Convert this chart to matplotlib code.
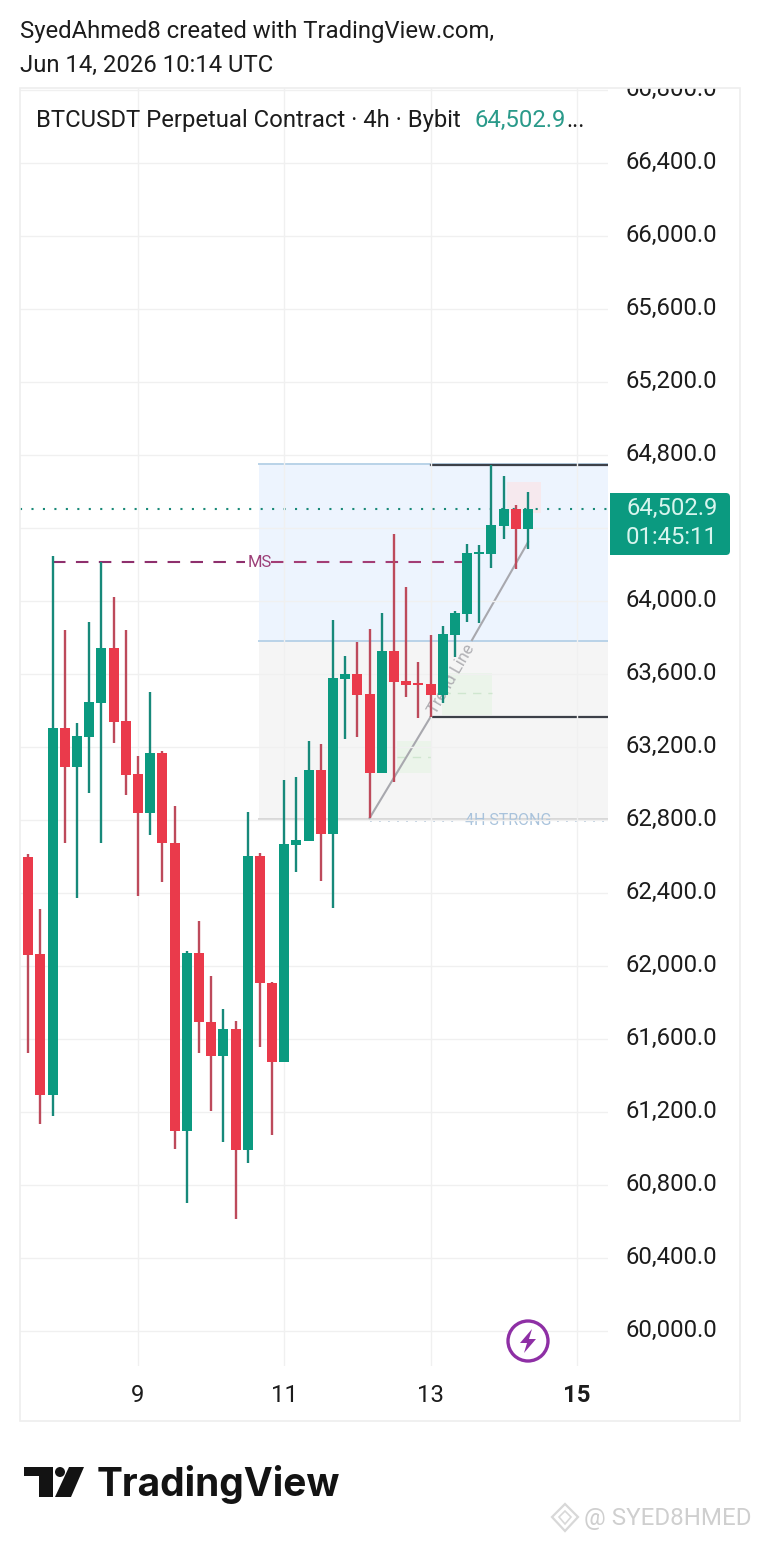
import matplotlib
matplotlib.use('Agg')
import matplotlib.pyplot as plt
from matplotlib.patches import Rectangle, Circle, Polygon, FancyBboxPatch
from matplotlib.transforms import Bbox, TransformedBbox, ScaledTranslation

plt.rcParams['font.family'] = ['Roboto', 'DejaVu Sans']

# 4h candles, index 9 = day 9
opens = [62595, 62064, 61291, 63302, 63089, 63253, 63439, 63741, 63341, 63050, 62837, 63165, 62672, 61094,
         62069, 61691, 61505, 61653, 60990, 62601, 61905, 61472, 62661, 62683, 63072, 62722, 63571, 63598,
         63489, 63056, 63724, 63560, 63549, 63543, 63483, 63812, 63927, 64256, 64256, 64409, 64502, 64393]
closes = [62059, 61291, 63302, 63089, 63258, 63445, 63741, 63335, 63045, 62837, 63165, 62672, 61094, 62069,
          61691, 61505, 61653, 60990, 62601, 61905, 61472, 62667, 62689, 63072, 62722, 63576, 63598, 63483,
          63056, 63724, 63554, 63538, 63538, 63483, 63817, 63932, 64261, 64267, 64415, 64502, 64393, 64502.9]
highs = [62612, 62311, 64245, 63839, 63330, 63883, 64212, 64020, 63839, 63149, 63500, 63176, 62875, 62080,
         62245, 61943, 61763, 61697, 62842, 62617, 61911, 63017, 63034, 63231, 63215, 63894, 63697, 63774,
         63845, 63932, 64365, 64075, 63664, 63812, 63861, 63943, 64310, 64305, 64743, 64683, 64524, 64595]
lows = [61522, 61133, 61176, 62672, 62371, 62946, 62672, 63220, 62935, 62382, 62716, 62459, 60996, 60700,
        61522, 61204, 61034, 60612, 60919, 61554, 61072, 61472, 62513, 62683, 62464, 62316, 63242, 63253,
        62809, 63056, 63006, 63472, 63357, 63363, 63439, 63691, 63883, 63878, 64179, 64338, 64173, 64283]

price_ticks = [60000, 60400, 60800, 61200, 61600, 62000, 62400, 62800, 63200, 63600, 64000, 64400, 64800,
               65200, 65600, 66000, 66400, 66800]
day_ticks = [9, 21, 33, 45]
day_labels = ['9', '11', '13', '15']
last_price = 64502.9

UP = '#0b9a80'
DOWN = '#ea3a4b'
UP_WICK = '#17897a'
DOWN_WICK = '#bd4a5b'
GRID = '#f0f0f0'

fig = plt.figure(figsize=(7.6, 15.42), dpi=100, facecolor='white')
ax = fig.add_axes([20 / 760, (1542 - 1366) / 1542, 588 / 760, (1366 - 88) / 1542])
ax.patch.set_alpha(0)
ax.set_xlim(-0.68, 47.56)
ax.set_ylim(59807, 66809)
for s in ax.spines.values():
    s.set_visible(False)

# grid, the 64,400 label is hidden by the last price tag
ax.set_yticks(price_ticks)
ax.set_yticklabels(['' if p == 64400 else f'{p:,.1f}' for p in price_ticks])
ax.set_xticks(day_ticks)
ax.set_xticklabels(day_labels)
ax.yaxis.tick_right()
ax.tick_params(axis='y', length=0, pad=12.5, labelsize=17.2, labelcolor='#1c1c1c')
ax.tick_params(axis='x', length=0, pad=13, labelsize=17.2, labelcolor='#1c1c1c')
ax.get_xticklabels()[-1].set_fontweight('bold')
ax.grid(True, color=GRID, lw=1.0, zorder=1.5)
ax.set_axisbelow(False)
for line in ax.get_xgridlines() + ax.get_ygridlines():
    line.set_zorder(1.5)

# the top tick label is cut by the panel edge, and they all sit a bit above their gridline
clip = TransformedBbox(Bbox([[0, 0], [1, (1542 - 88) / 1542]]), fig.transFigure)
lift = ScaledTranslation(0, 3 / 100, fig.dpi_scale_trans)
for lab in ax.get_yticklabels():
    lab.set_transform(lab.get_transform() + lift)
    lab.set_clip_box(clip)
    lab.set_clip_on(True)

# zones
ax.add_patch(Rectangle((18.93, 63780), 30, 970, fc='#edf4fe', ec='none', zorder=1))
ax.add_patch(Rectangle((18.93, 62805), 30, 975, fc='#f5f5f5', ec='none', zorder=1))
ax.plot([18.93, 47.56], [64750, 64750], color='#b9d3e8', lw=1.4, zorder=2)
ax.plot([18.93, 47.56], [63780, 63780], color='#b9d3e8', lw=1.4, zorder=2)
ax.plot([18.93, 47.56], [62805, 62805], color='#d8d8d8', lw=1.4, zorder=2)

ax.add_patch(Rectangle((30.25, 63056), 2.75, 175, fc='#ebf4ea', ec='none', zorder=1.8))
ax.plot([30.25, 33.0], [63143, 63143], color='#cfe6cf', lw=1, ls=(0, (6, 5)), zorder=1.9)
ax.add_patch(Rectangle((33.94, 63373), 4.1, 231, fc='#ebf4ea', ec='none', zorder=1.8))
ax.plot([33.94, 38.04], [63494, 63494], color='#cfe6cf', lw=1, ls=(0, (6, 5)), zorder=1.9)
ax.add_patch(Rectangle((39.27, 64480), 2.79, 170, fc='#f6e9ee', ec='none', zorder=1.8))

# levels
ax.plot([33, 47.56], [64745, 64745], color='#3c4048', lw=1.6, zorder=2.2)
ax.plot([33, 47.56], [63363, 63363], color='#3c4048', lw=1.6, zorder=2.2)
ax.plot([2, 17.8], [64212, 64212], color='#8e2f6d', lw=1.5, ls=(0, (6, 5)), zorder=2.2)
ax.plot([19.9, 36], [64212, 64212], color='#a33d75', lw=1.5, ls=(0, (6, 5)), zorder=2.2)
ax.text(18.98, 64212, 'MS', color='#9c3f78', fontsize=12, ha='center', va='center', zorder=2.3)
ax.plot([-0.68, 47.56], [last_price, last_price], color='#1a8a78', lw=1.5, ls=(0, (1, 4.5)), zorder=2.2)
ax.plot([28, 35.4], [62795, 62795], color='#b4c8dc', lw=1.3, ls=(0, (1, 4)), zorder=2.2)
ax.plot([43.4, 47.56], [62795, 62795], color='#b4c8dc', lw=1.3, ls=(0, (1, 4)), zorder=2.2)
ax.text(39.4, 62795, '4H STRONG', color='#a9c3dc', fontsize=11.5, ha='center', va='center', zorder=2.3)

# trend line with its label in a gap
ax.plot([28, 33], [62809, 63363], color='#a8a8ae', lw=1.5, zorder=2.4)
ax.plot([36.4, 41], [63784, 64321], color='#a8a8ae', lw=1.5, zorder=2.4)
ax.text(34.7, 63573, 'Trend Line', color='#b0b0b4', fontsize=12, rotation=60, rotation_mode='anchor',
        ha='center', va='center', zorder=2.4)

# candles
for i in range(len(opens)):
    up = closes[i] >= opens[i]
    ax.vlines(i, lows[i], highs[i], color=UP_WICK if up else DOWN_WICK, lw=1.7, zorder=3)
    ax.bar(i, abs(closes[i] - opens[i]), bottom=min(opens[i], closes[i]), width=0.82,
           color=UP if up else DOWN, linewidth=0, zorder=3.1)

# everything outside the price scale, in pixels
page = fig.add_axes([0, 0, 1, 1], zorder=3)
page.set_xlim(0, 760)
page.set_ylim(1542, 0)
page.axis('off')

page.add_patch(Rectangle((20, 88), 720, 1333, fc='none', ec='#eeeeee', lw=1.2))
page.text(20, 31.5, 'SyedAhmed8 created with TradingView.com,', fontsize=17.2, color='#1c1c1c', va='center')
page.text(20, 65.5, 'Jun 14, 2026 10:14 UTC', fontsize=17.2, color='#1c1c1c', va='center')
page.text(36, 120.5, 'BTCUSDT Perpetual Contract · 4h · Bybit', fontsize=17.2, color='#1c1c1c', va='center')
page.text(474, 120.5, '64,502.9', fontsize=17.2, color='#2a9a8a', va='center')
page.text(566, 120.5, '...', fontsize=17.2, color='#1c1c1c', va='center')

# last price tag
page.add_patch(FancyBboxPatch((614, 497), 112, 54, boxstyle='round,pad=4', fc='#0b9a80', ec='none'))
page.add_patch(Rectangle((610, 493), 8, 62, fc='#0b9a80', ec='none'))
page.text(626, 508, '64,502.9', fontsize=17.2, color='#d8f5ee', va='center')
page.text(626, 537, '01:45:11', fontsize=17.2, color='#d8f5ee', va='center')

# bolt icon
page.add_patch(Circle((528, 1341), 20, fc='white', ec='#8e2fa5', lw=2.4))
page.add_patch(Polygon([(532, 1329), (520, 1343), (527, 1343), (524, 1353), (536, 1339), (529, 1339)],
                       fc='#8e2fa5', ec='none'))

# TradingView logo
page.add_patch(Polygon([(24, 1467), (53, 1467), (53, 1497), (39, 1497), (39, 1476), (24, 1476)], fc='#131313', ec='none'))
page.add_patch(Circle((60, 1472), 5, fc='#131313', ec='none'))
page.add_patch(Polygon([(69, 1467), (84, 1467), (71, 1497), (55, 1497)], fc='#131313', ec='none'))
page.text(97, 1484, 'TradingView', family='Inter', fontweight='bold', fontsize=28, color='#131313', va='center')

# watermark
page.add_patch(Polygon([(565, 1504), (578, 1517), (565, 1531), (552, 1517)], fc='none', ec='#d8d8d8', lw=1.6))
page.add_patch(Polygon([(565, 1511), (571, 1517), (565, 1524), (559, 1517)], fc='none', ec='#d8d8d8', lw=1.2))
page.text(584, 1518, '@ SYED8HMED', fontsize=17.4, color='#cfcfcf', va='center')

fig.savefig('out.png', dpi=100)
